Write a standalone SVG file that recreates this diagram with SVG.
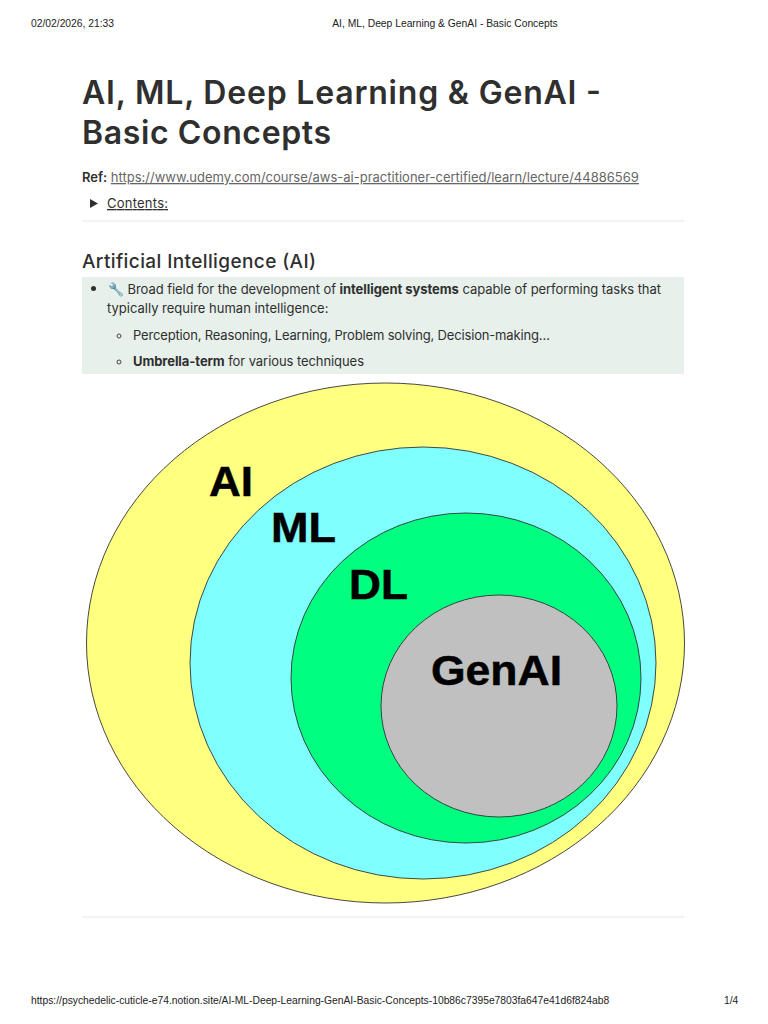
<svg xmlns="http://www.w3.org/2000/svg" width="768" height="1024" viewBox="0 0 768 1024">
<style>
.h{font-family:"Liberation Sans",Arial,sans-serif;font-size:10.300px;fill:#222}
.t{font-family:Inter,"Noto Sans",sans-serif;fill:#2f2f2f}
.b{font-size:13px}
.e{stroke:#333;stroke-width:.9}
.l{font-family:"Liberation Sans",Arial,sans-serif;font-weight:bold;font-size:42.500px;fill:#000;stroke:#000;stroke-width:.5}
.r{stroke:#e6e6e4;stroke-width:1}
</style>
<rect width="768" height="1024" fill="#fff"/>
<text class="h" x="31" y="27">02/02/2026, 21:33</text>
<text class="h" x="445" y="27" text-anchor="middle">AI, ML, Deep Learning &amp; GenAI - Basic Concepts</text>
<text class="t" x="82" y="104" font-size="32" font-weight="600" textLength="519">AI, ML, Deep Learning &amp; GenAI -</text>
<text class="t" x="82" y="144" font-size="32" font-weight="600" textLength="249">Basic Concepts</text>
<text class="t b" x="82" y="182"><tspan font-weight="600">Ref:</tspan> <tspan fill="#666" text-decoration="underline">https://www.udemy.com/course/aws-ai-practitioner-certified/learn/lecture/44886569</tspan></text>
<polygon points="90,199 90,208 98,203.500" fill="#2f2f2f"/>
<text class="t b" x="107" y="208" text-decoration="underline" textLength="61">Contents:</text>
<line class="r" x1="82" y1="221" x2="684" y2="221"/>
<text class="t" x="82" y="268" font-size="19" font-weight="500" textLength="234">Artificial Intelligence (AI)</text>
<rect x="82" y="277" width="602" height="97" fill="#e7f0eb"/>
<circle cx="93.500" cy="288.500" r="2.500" fill="#2f2f2f"/>
<text class="t b" x="108" y="294" textLength="553">🔧 Broad field for the development of <tspan font-weight="700">intelligent systems</tspan> capable of performing tasks that</text>
<text class="t b" x="107" y="313">typically require human intelligence:</text>
<circle cx="119" cy="336" r="2" fill="none" stroke="#444"/>
<text class="t b" x="133" y="340" textLength="417">Perception, Reasoning, Learning, Problem solving, Decision-making…</text>
<circle cx="119" cy="362" r="2" fill="none" stroke="#444"/>
<text class="t b" x="133" y="366" textLength="231"><tspan font-weight="700">Umbrella-term</tspan> for various techniques</text>
<g id="ai"><ellipse class="e" cx="385.500" cy="643" rx="299" ry="260" fill="#ffff80"/><text class="l" x="209" y="496" textLength="44" lengthAdjust="spacingAndGlyphs">AI</text></g>
<g id="ml"><ellipse class="e" cx="423" cy="663" rx="233" ry="216" fill="#80ffff"/><text class="l" x="271" y="542" textLength="65" lengthAdjust="spacingAndGlyphs">ML</text></g>
<g id="dl"><ellipse class="e" cx="466" cy="678" rx="175" ry="165" fill="#00ff80"/><text class="l" x="349" y="599" textLength="59" lengthAdjust="spacingAndGlyphs">DL</text></g>
<g id="genai"><ellipse class="e" cx="499" cy="706" rx="118" ry="111" fill="#c0c0c0"/><text class="l" x="431" y="685" textLength="131" lengthAdjust="spacingAndGlyphs">GenAI</text></g>
<g id="connectors"></g>
<line class="r" x1="82" y1="917" x2="684" y2="917"/>
<text class="h" x="31" y="1004">https://psychedelic-cuticle-e74.notion.site/AI-ML-Deep-Learning-GenAI-Basic-Concepts-10b86c7395e7803fa647e41d6f824ab8</text>
<text class="h" x="724" y="1004">1/4</text>
</svg>
